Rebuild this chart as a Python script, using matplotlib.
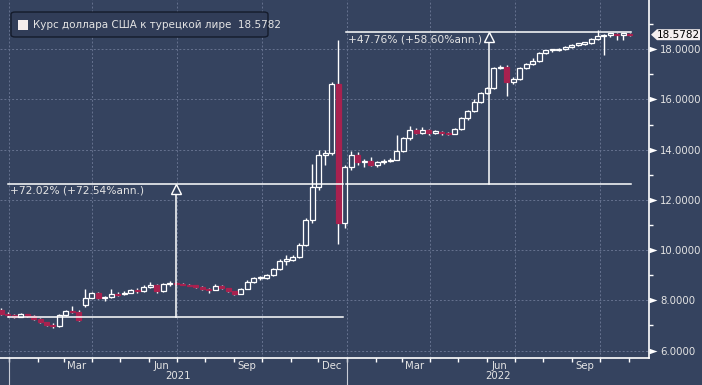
import matplotlib
matplotlib.use("Agg")
import matplotlib.pyplot as plt
import matplotlib.dates as mdates
import matplotlib.transforms as mtransforms
from matplotlib.patches import FancyBboxPatch, Rectangle, Polygon
import numpy as np
import pandas as pd

# weekly USD/TRY candles (week starting Monday)
first_week = "2020-12-21"
opens = [7.62, 7.46,
         7.40, 7.34, 7.44, 7.38, 7.26, 7.12, 7.02, 6.98, 7.42, 7.58, 7.53, 7.80, 8.10,
         8.30, 8.10, 8.12, 8.26, 8.24, 8.30, 8.42, 8.36, 8.55, 8.62, 8.36, 8.66, 8.70,
         8.66, 8.62, 8.60, 8.54, 8.46, 8.42, 8.58, 8.48, 8.36, 8.26, 8.46, 8.74, 8.88,
         8.90, 9.02, 9.24, 9.58, 9.60, 9.72, 10.20, 11.20, 12.50, 13.80, 13.85, 16.60, 11.10,
         13.30, 13.80, 13.50, 13.55, 13.40, 13.50, 13.55, 13.60, 13.95, 14.45, 14.80, 14.66, 14.80,
         14.68, 14.70, 14.66, 14.64, 14.82, 15.25, 15.55, 15.90, 16.25, 16.45, 17.25, 17.30, 16.70,
         16.80, 17.25, 17.40, 17.55, 17.85, 17.95, 17.96, 18.02, 18.10, 18.18, 18.22, 18.26, 18.40,
         18.52, 18.58, 18.60, 18.58, 18.60]
highs = [7.68, 7.52,
         7.46, 7.48, 7.47, 7.40, 7.28, 7.14, 7.08, 7.45, 7.62, 7.78, 7.60, 8.47, 8.35,
         8.32, 8.18, 8.44, 8.32, 8.36, 8.46, 8.48, 8.60, 8.74, 8.64, 8.70, 8.76, 8.74,
         8.70, 8.66, 8.62, 8.56, 8.50, 8.64, 8.60, 8.50, 8.38, 8.50, 8.80, 8.94, 8.96,
         9.06, 9.28, 9.66, 9.82, 9.80, 10.30, 11.30, 13.45, 14.00, 14.00, 16.70, 18.36, 13.40,
         13.95, 13.90, 13.62, 13.70, 13.55, 13.62, 13.65, 14.60, 14.50, 14.96, 14.88, 14.90, 14.82,
         14.78, 14.76, 14.72, 14.86, 15.30, 15.60, 16.00, 16.30, 16.50, 17.30, 17.38, 17.36, 16.90,
         17.30, 17.45, 17.65, 17.90, 17.98, 18.00, 18.06, 18.12, 18.20, 18.25, 18.30, 18.45, 18.76,
         18.60, 18.64, 18.64, 18.62, 18.65]
lows = [7.42, 7.34,
        7.30, 7.32, 7.35, 7.22, 7.08, 6.98, 6.90, 6.96, 7.38, 7.50, 7.18, 7.72, 8.08,
        8.05, 7.98, 8.08, 8.18, 8.22, 8.28, 8.30, 8.34, 8.50, 8.30, 8.32, 8.58, 8.60,
        8.60, 8.56, 8.50, 8.40, 8.30, 8.40, 8.44, 8.32, 8.22, 8.24, 8.44, 8.70, 8.82,
        8.86, 8.98, 9.20, 9.40, 9.56, 9.70, 10.15, 11.10, 12.40, 13.40, 13.80, 10.25, 10.90,
        13.20, 13.40, 13.30, 13.35, 13.30, 13.45, 13.50, 13.60, 13.90, 14.40, 14.62, 14.64, 14.60,
        14.62, 14.60, 14.60, 14.62, 14.78, 15.20, 15.50, 15.85, 16.20, 16.40, 17.20, 16.15, 16.60,
        16.78, 17.20, 17.38, 17.50, 17.82, 17.90, 17.92, 17.98, 18.06, 18.14, 18.18, 18.22, 18.35,
        17.76, 18.50, 18.36, 18.36, 18.52]
closes = [7.46, 7.40,
          7.34, 7.44, 7.38, 7.26, 7.12, 7.02, 6.98, 7.42, 7.58, 7.53, 7.22, 8.10, 8.30,
          8.10, 8.12, 8.26, 8.24, 8.30, 8.42, 8.36, 8.55, 8.62, 8.36, 8.66, 8.70, 8.66,
          8.62, 8.60, 8.54, 8.46, 8.42, 8.58, 8.48, 8.36, 8.26, 8.46, 8.74, 8.88, 8.90,
          9.02, 9.24, 9.58, 9.60, 9.72, 10.20, 11.20, 12.50, 13.80, 13.85, 16.60, 11.10, 13.30,
          13.80, 13.50, 13.55, 13.40, 13.50, 13.55, 13.60, 13.95, 14.45, 14.80, 14.66, 14.80, 14.68,
          14.70, 14.66, 14.64, 14.82, 15.25, 15.55, 15.90, 16.25, 16.45, 17.25, 17.30, 16.70, 16.80,
          17.25, 17.40, 17.55, 17.85, 17.95, 17.96, 18.02, 18.10, 18.18, 18.22, 18.26, 18.40, 18.52,
          18.58, 18.60, 18.58, 18.60, 18.5782]

last_price = 18.5782
legend_label = "Курс доллара США к турецкой лире"

# measurement tool: start date, end date, start level, end level, text
m1 = ("2020-12-31", "2021-12-28", 7.35, 12.645, "+72.02% (+72.54%ann.)")
m2 = ("2021-12-31", "2022-11-04", 12.645, 18.68, "+47.76% (+58.60%ann.)")

month_labels = ["Mar", "Jun", "Sep", "Dec", "Mar", "Jun", "Sep"]
month_label_dates = ["2021-03-15", "2021-06-15", "2021-09-15", "2021-12-15",
                     "2022-03-15", "2022-06-15", "2022-09-15"]
years = ["2021", "2022"]

BG = "#35435f"
RED = "#a8214f"
FG = "#e4e4e4"
GRID = "#66728f"

W, H = 702, 385
fig = plt.figure(figsize=(W / 100, H / 100), dpi=100, facecolor=BG)
ax = fig.add_axes([0, 1 - 358.4 / H, 649 / W, 358.4 / H], facecolor=BG)

weeks = pd.date_range(first_week, periods=len(closes), freq="7D")
x = mdates.date2num(weeks.to_pydatetime()) + 2.5
o = np.array(opens)
h = np.array(highs)
l = np.array(lows)
c = np.array(closes)
up = c >= o

# keep tiny bodies visible as small boxes
body = c - o
body = np.where(np.abs(body) < 0.05, np.where(up, 0.05, -0.05), body)

ax.vlines(x, l, h, color="white", lw=1.0, zorder=3)
ax.bar(x[up], body[up], bottom=o[up], width=5.4, facecolor=BG,
       edgecolor="white", lw=0.9, zorder=4)
ax.bar(x[~up], body[~up], bottom=o[~up], width=5.4, facecolor=RED,
       edgecolor=RED, lw=0.9, zorder=4)

x0 = mdates.date2num(pd.Timestamp("2021-01-01")) - 9.72
x1 = mdates.date2num(pd.Timestamp("2021-01-01")) + 691.1
ax.set_xlim(x0, x1)
ax.set_ylim(5.69, 19.96)

# grid
for v in range(6, 19, 2):
    ax.axhline(v, color=GRID, lw=0.7, ls=(0, (2, 2)), zorder=1)
for d in pd.date_range("2021-01-01", "2022-10-01", freq="QS"):
    ax.axvline(mdates.date2num(d), color=GRID, lw=0.7, ls=(0, (2, 2)), zorder=1)

# spines
for s in ["top", "left"]:
    ax.spines[s].set_visible(False)
for s in ["right", "bottom"]:
    ax.spines[s].set_color("white")
    ax.spines[s].set_linewidth(1.2)

# y axis on the right
ax.yaxis.tick_right()
ax.set_yticks(range(6, 19, 2))
ax.set_yticklabels([f"{v:.4f}" for v in range(6, 19, 2)])
ax.set_yticks(range(7, 20, 2), minor=True)
ax.tick_params(axis="y", which="major", length=0, pad=8, labelsize=7.3, labelcolor=FG)
ax.tick_params(axis="y", which="minor", length=3, width=1, color="white", direction="out")
ytrans = mtransforms.blended_transform_factory(ax.transAxes, ax.transData)
for v in range(6, 19, 2):
    ax.plot([1.0], [v], marker=[(0, -0.35), (1, 0), (0, 0.35)], ms=11.5, color="white",
            mec="white", mew=0, transform=ytrans, clip_on=False, zorder=6)

# x axis: month ticks, mid-month labels, year labels
month_starts = pd.date_range("2021-01-01", "2022-11-01", freq="MS")
ax.set_xticks(mdates.date2num(month_starts.to_pydatetime()))
ax.set_xticklabels([])
ax.tick_params(axis="x", which="major", length=3, width=1, color="white", direction="out")
ax.set_xticks(mdates.date2num(pd.to_datetime(month_label_dates).to_pydatetime()), minor=True)
ax.set_xticklabels(month_labels, minor=True)
ax.tick_params(axis="x", which="minor", length=0, pad=2, labelsize=7.3, labelcolor=FG)

xtrans = mtransforms.blended_transform_factory(ax.transData, ax.transAxes)
year_starts = [mdates.date2num(pd.Timestamp("2021-01-01")), mdates.date2num(pd.Timestamp("2022-01-01"))]
year_mid = [(year_starts[0] + year_starts[1]) / 2, (year_starts[1] + x1) / 2]
for ys, ym, yl in zip(year_starts, year_mid, years):
    ax.plot([ys, ys], [0, -0.08], color="#c8ccd6", lw=0.8, transform=xtrans, clip_on=False)
    ax.text(ym, -0.036, yl, transform=xtrans, ha="center", va="top", fontsize=7.3, color=FG)

# measurement annotations
for start, end, lo, hi, txt in [m1, m2]:
    s = mdates.date2num(pd.Timestamp(start))
    e = mdates.date2num(pd.Timestamp(end))
    ax.plot([s, e], [lo, lo], color="white", lw=1.1, zorder=5)
    ax.plot([s, e], [hi, hi], color="white", lw=1.1, zorder=5)
    mid = (s + e) / 2
    ax.plot([mid, mid], [lo, hi - 0.3], color="white", lw=1.1, zorder=5)
    ax.plot([mid], [hi - 0.21], marker="^", ms=7.5, mfc=BG, mec="white", mew=1.0, zorder=6)
    ax.text(s + 2, hi - 0.08, txt, ha="left", va="top", fontsize=7.7, color=FG, zorder=6)

# legend box
def fx(px):
    return px / W

def fy(py):
    return 1 - py / H

fig.patches.append(FancyBboxPatch((fx(11), fy(37)), fx(257), 25 / H,
                                  boxstyle="round,pad=0,rounding_size=0.006",
                                  transform=fig.transFigure, facecolor="#313d58",
                                  edgecolor="#141b2b", lw=1.0))
fig.patches.append(Rectangle((fx(18), fy(30)), fx(10), 10 / H, transform=fig.transFigure,
                             facecolor="#f3ecec", edgecolor="none"))
fig.text(fx(33), fy(25), f"{legend_label}  {last_price:.4f}", ha="left", va="center",
         fontsize=7.5, color=FG)

# last price tag
fig.canvas.draw()
py = H - ax.transData.transform((x1, last_price))[1]
tag = [(651, py), (657, py - 5.5), (700, py - 5.5), (700, py + 5.5), (657, py + 5.5)]
fig.patches.append(Polygon([(fx(a), fy(b)) for a, b in tag], closed=True,
                           transform=fig.transFigure, facecolor="#f5efef", edgecolor="none"))
fig.text(fx(678), fy(py), f"{last_price:.4f}", ha="center", va="center", fontsize=7.5, color="black")

fig.savefig("out.png", dpi=100, facecolor=BG)
